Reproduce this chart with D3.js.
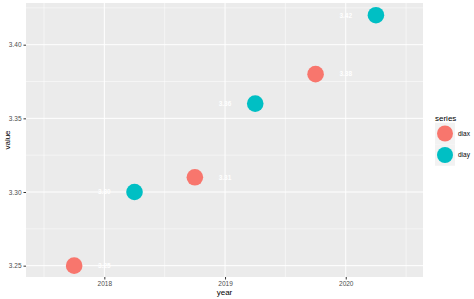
<!DOCTYPE html>
<html>
<head>
<meta charset="utf-8">
<script src="https://cdn.jsdelivr.net/npm/d3@7"></script>
<style>
  body { margin: 0; background: #fff; }
  text { font-family: "Liberation Sans", Arial, sans-serif; }
</style>
</head>
<body>
<script>
// data
var years = [2018, 2019, 2020];
var diax = [3.25, 3.31, 3.38];
var diay = [3.30, 3.36, 3.42];
var seriesNames = ["diax", "diay"];
var seriesColors = ["#F8766D", "#00BFC4"];
var xTicks = [2018, 2019, 2020];
var yTicks = [3.25, 3.30, 3.35, 3.40];

var svgWidth = 474, svgHeight = 299;
var panel = { left: 26, right: 423, top: 3, bottom: 277 };

var svg = d3.select("body").append("svg")
  .attr("width", svgWidth)
  .attr("height", svgHeight);

var x = d3.scaleLinear().domain([2017.351, 2020.64]).range([panel.left, panel.right]);
var y = d3.scaleLinear().domain([3.2423, 3.4283]).range([panel.bottom, panel.top]);

// flatten into points, dodged by series
var points = [];
years.forEach(function(yr, i) {
  points.push({ year: yr, value: diax[i], s: 0, dodge: -0.25 });
  points.push({ year: yr, value: diay[i], s: 1, dodge: 0.25 });
});

// panel background
svg.append("rect")
  .attr("x", panel.left).attr("y", panel.top)
  .attr("width", panel.right - panel.left).attr("height", panel.bottom - panel.top)
  .attr("fill", "#EBEBEB");

var grid = svg.append("g");
// minor grid
var xMinor = [2017.5, 2018.5, 2019.5, 2020.5];
var yMinor = [3.275, 3.325, 3.375, 3.425];
grid.selectAll(".xminor").data(xMinor).enter().append("line")
  .attr("x1", d => x(d)).attr("x2", d => x(d))
  .attr("y1", panel.top).attr("y2", panel.bottom)
  .attr("stroke", "#fff").attr("stroke-width", 0.5);
grid.selectAll(".yminor").data(yMinor).enter().append("line")
  .attr("y1", d => y(d)).attr("y2", d => y(d))
  .attr("x1", panel.left).attr("x2", panel.right)
  .attr("stroke", "#fff").attr("stroke-width", 0.5);
// major grid
grid.selectAll(".xmajor").data(xTicks).enter().append("line")
  .attr("x1", d => x(d)).attr("x2", d => x(d))
  .attr("y1", panel.top).attr("y2", panel.bottom)
  .attr("stroke", "#fff").attr("stroke-width", 1);
grid.selectAll(".ymajor").data(yTicks).enter().append("line")
  .attr("y1", d => y(d)).attr("y2", d => y(d))
  .attr("x1", panel.left).attr("x2", panel.right)
  .attr("stroke", "#fff").attr("stroke-width", 1);

// axes
var bottomAxis = d3.axisBottom(x).tickValues(xTicks).tickFormat(d3.format("d")).tickSize(2.5).tickSizeOuter(0).tickPadding(2);
var leftAxis = d3.axisLeft(y).tickValues(yTicks).tickFormat(d3.format(".2f")).tickSize(2.5).tickSizeOuter(0).tickPadding(2);

var gx = svg.append("g").attr("transform", `translate(0, ${panel.bottom})`).call(bottomAxis);
var gy = svg.append("g").attr("transform", `translate(${panel.left}, 0)`).call(leftAxis);
[gx, gy].forEach(function(g) {
  g.select(".domain").remove();
  g.selectAll("line").attr("stroke", "#333");
  g.selectAll("text").attr("fill", "#4D4D4D").style("font-size", "6.5px");
});

// points
svg.selectAll(".pt").data(points).enter().append("circle")
  .attr("cx", d => x(d.year + d.dodge))
  .attr("cy", d => y(d.value))
  .attr("r", 8.3)
  .attr("fill", d => seriesColors[d.s]);

// value labels at the year position
svg.selectAll(".lbl").data(points).enter().append("text")
  .attr("x", d => x(d.year))
  .attr("y", d => y(d.value))
  .attr("dy", "0.35em")
  .attr("text-anchor", "middle")
  .attr("fill", "#fff")
  .style("font-size", "6.5px")
  .style("font-weight", "bold")
  .text(d => d3.format(".2f")(d.value));

// axis titles
svg.append("text")
  .attr("x", (panel.left + panel.right) / 2).attr("y", 295)
  .attr("text-anchor", "middle").attr("fill", "#000")
  .style("font-size", "8px").text("year");
svg.append("text")
  .attr("transform", `translate(10, ${(panel.top + panel.bottom) / 2}) rotate(-90)`)
  .attr("text-anchor", "middle").attr("fill", "#000")
  .style("font-size", "8px").text("value");

// legend
var legend = svg.append("g").attr("transform", "translate(435, 0)");
legend.append("text").attr("x", 0).attr("y", 121)
  .attr("fill", "#000").style("font-size", "8px").text("series");
seriesNames.forEach(function(name, i) {
  var cy = 133.5 + i * 21.5;
  legend.append("rect").attr("x", 0).attr("y", cy - 10.75)
    .attr("width", 20).attr("height", 21.5).attr("fill", "#F2F2F2");
  legend.append("circle").attr("cx", 10).attr("cy", cy).attr("r", 8)
    .attr("fill", seriesColors[i]);
  legend.append("text").attr("x", 23).attr("y", cy).attr("dy", "0.35em")
    .attr("fill", "#000").style("font-size", "6.5px").text(name);
});
</script>
</body>
</html>
